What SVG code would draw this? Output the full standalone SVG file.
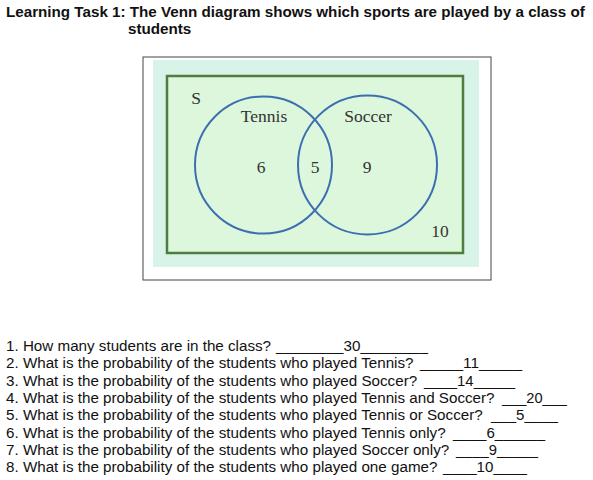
<svg xmlns="http://www.w3.org/2000/svg" width="593" height="480" viewBox="0 0 593 480">
<style>
.title{font-family:"Liberation Sans",Arial,sans-serif;font-weight:bold;font-size:15.2px;fill:#111}
.q{font-family:"Liberation Sans",Arial,sans-serif;font-size:15.2px;fill:#111}
.v{font-family:"Liberation Serif","Times New Roman",serif;font-size:17.5px;fill:#333}
.circ{fill:none;stroke:#3d6fb0;stroke-width:2}
</style>
<rect width="593" height="480" fill="#fff"/>
<text class="title" x="6" y="17">Learning Task 1: The Venn diagram shows which sports are played by a class of</text>
<text class="title" x="128" y="34">students</text>
<g id="venn">
<rect x="143" y="57" width="348" height="223" fill="#fff" stroke="#444" stroke-width="1"/>
<rect x="153" y="60" width="326" height="207" fill="#d8f3e8"/>
<g id="universe">
<rect x="167" y="76" width="296" height="177" fill="#dcf7dc" stroke="#4f7d3f" stroke-width="2.5"/>
<text class="v" x="196" y="104" text-anchor="middle">S</text>
<text class="v" x="440" y="237" text-anchor="middle">10</text>
</g>
<g id="tennis">
<circle class="circ" cx="263.5" cy="165" r="68.5"/>
<text class="v" x="264" y="122" text-anchor="middle">Tennis</text>
<text class="v" x="261" y="173" text-anchor="middle">6</text>
</g>
<g id="soccer">
<circle class="circ" cx="367.5" cy="165" r="69.5"/>
<text class="v" x="368" y="122" text-anchor="middle">Soccer</text>
<text class="v" x="367" y="173" text-anchor="middle">9</text>
</g>
<g id="both">
<text class="v" x="315" y="173" text-anchor="middle">5</text>
</g>
</g>
<g id="questions">
<text class="q" y="351"><tspan x="6">1. How many students are in the class?</tspan><tspan x="276" textLength="152" lengthAdjust="spacingAndGlyphs">________30________</tspan></text>
<text class="q" y="368.3"><tspan x="6">2. What is the probability of the students who played Tennis?</tspan><tspan x="420" textLength="102" lengthAdjust="spacingAndGlyphs">_____11_____</tspan></text>
<text class="q" y="385.6"><tspan x="6">3. What is the probability of the students who played Soccer?</tspan><tspan x="424" textLength="91" lengthAdjust="spacingAndGlyphs">____14_____</tspan></text>
<text class="q" y="403"><tspan x="6">4. What is the probability of the students who played Tennis and Soccer?</tspan><tspan x="502" textLength="65" lengthAdjust="spacingAndGlyphs">___20___</tspan></text>
<text class="q" y="420.3"><tspan x="6">5. What is the probability of the students who played Tennis or Soccer?</tspan><tspan x="491" textLength="67" lengthAdjust="spacingAndGlyphs">___5____</tspan></text>
<text class="q" y="437.6"><tspan x="6">6. What is the probability of the students who played Tennis only?</tspan><tspan x="453" textLength="92" lengthAdjust="spacingAndGlyphs">____6______</tspan></text>
<text class="q" y="455"><tspan x="6">7. What is the probability of the students who played Soccer only?</tspan><tspan x="456" textLength="82" lengthAdjust="spacingAndGlyphs">____9_____</tspan></text>
<text class="q" y="472.3"><tspan x="6">8. What is the probability of the students who played one game?</tspan><tspan x="443" textLength="84" lengthAdjust="spacingAndGlyphs">____10____</tspan></text>
</g>
</svg>
